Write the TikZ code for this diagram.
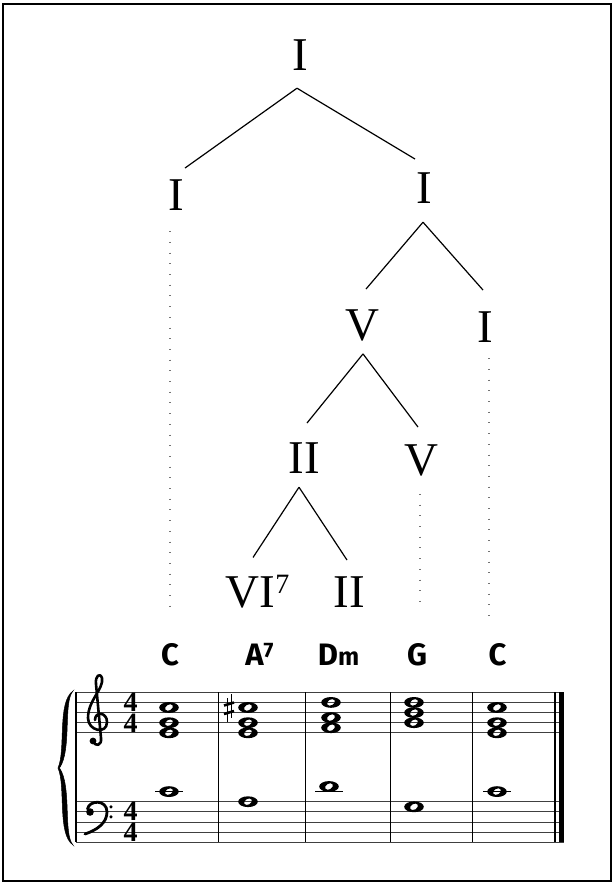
\documentclass[tikz,border=0pt]{standalone}
\usepackage{fontspec}
\setmainfont{Liberation Serif}
\newfontfamily\chordfont{Fira Sans}
\begin{document}
\begin{tikzpicture}[x=1pt,y=-1pt,
  rn/.style={anchor=base, inner sep=0pt, font=\fontsize{47}{47}\selectfont},
  ch/.style={anchor=base, inner sep=0pt, font=\chordfont\bfseries\fontsize{31}{31}\selectfont},
  ts/.style={anchor=center, inner sep=0pt, align=center, font=\bfseries\fontsize{28}{20.6}\selectfont},
  branch/.style={line width=1.2pt},
  dotline/.style={line width=1.2pt, dash pattern=on 1pt off 9.7pt, black!55},
  staffline/.style={line width=0.9pt, black!75},
  barline/.style={line width=1.1pt},
  ledger/.style={line width=1.2pt},
  wnote/.pic={\fill[even odd rule] (0,0) ellipse [x radius=9.8pt, y radius=5.4pt] (0,0) circle [x radius=4.2pt, y radius=2.9pt, rotate=30];}
]
\useasboundingbox (0,0) rectangle (615,886);
\draw[line width=2pt] (3,4) rectangle (611,881);

% tree labels
\node[rn] (r) at (300,70) {I};
\node[rn] (a) at (176,210) {I};
\node[rn] (b) at (424,203) {I};
\node[rn] (c) at (362,340) {V};
\node[rn] (d) at (485,342) {I};
\node[rn] (e) at (304,473) {II};
\node[rn] (f) at (421,475) {V};
\node[rn] (g) at (257.5,607) {VI{\fontsize{28}{28}\selectfont\raisebox{14pt}{7}}};
\node[rn] (h) at (349,607) {II};

% branches
\draw[branch] ([shift={(-3,18)}]r.south) -- ([shift={(9,-11)}]a.north);
\draw[branch] ([shift={(-3,18)}]r.south) -- ([shift={(-9,-13)}]b.north);
\draw[branch] ([shift={(-1,19)}]b.south) -- ([shift={(4,-20)}]c.north);
\draw[branch] ([shift={(-1,19)}]b.south) -- ([shift={(-2,-21)}]d.north);
\draw[branch] ([shift={(1,13)}]c.south) -- ([shift={(3,-19)}]e.north);
\draw[branch] ([shift={(1,13)}]c.south) -- ([shift={(-3,-17)}]f.north);
\draw[branch] ([shift={(-5,14)}]e.south) -- ([shift={(-4.5,-17)}]g.north);
\draw[branch] ([shift={(-5,14)}]e.south) -- ([shift={(-2,-16)}]h.north);

% chord symbols
\node[ch] (k1) at (170,665) {C};
\node[ch] (k2) at (259.5,665) {A\raisebox{7.5pt}{\fontsize{21}{21}\selectfont 7}};
\node[ch] (k3) at (338.5,665) {D{\fontsize{25}{25}\selectfont m}};
\node[ch] (k4) at (417,665) {G};
\node[ch] (k5) at (497.5,665) {C};

% dotted guides
\draw[dotline] ([shift={(-6,21)}]a.south) -- ([shift={(0,-30)}]k1.north);
\draw[dotline] ([shift={(-1,18)}]f.south) -- ([shift={(3,-40)}]k4.north);
\draw[dotline] ([shift={(4,16)}]d.south) -- ([shift={(-8.5,-21)}]k5.north);

% staves
\foreach \k in {0,...,4} {
  \draw[staffline] (76,{732.8-10.12*\k}) -- (564,{732.8-10.12*\k});
  \draw[staffline] (76,{842.2-10.12*\k}) -- (564,{842.2-10.12*\k});
}
\foreach \bx in {76,218.3,305.7,390.7,472.7,555} {
  \draw[barline] (\bx,692.3) -- (\bx,842.2);
}
\draw[line width=4.5pt] (561.5,692.3) -- (561.5,842.2);

% brace
\filldraw[line width=0.5pt] (73,691) .. controls (57,702) and (66,750) .. (58,768)
  .. controls (66,786) and (57,834) .. (73,845)
  .. controls (63,834) and (72,786) .. (59.5,768)
  .. controls (72,750) and (63,702) .. (73,691) -- cycle;

% treble clef
\draw[line width=2.6pt, line cap=round, line join=round]
  (93,741) .. controls (95,747) and (102,746) .. (101,738)
  -- (96,684)
  .. controls (95,676) and (100,672) .. (102,678)
  .. controls (104,689) and (88,700) .. (88,718)
  .. controls (88,731) and (107,735) .. (107,722)
  .. controls (107,712) and (95,711) .. (95,720);
\fill (93,741) circle (3.4pt);

% bass clef
\fill (90,812) circle (3.8pt);
\draw[line width=2.8pt, line cap=round]
  (87.5,809) .. controls (89,800) and (107,799) .. (107,812)
  .. controls (107,823) and (97,830) .. (85,834);
\fill (111,806.9) circle (1.7pt);
\fill (111,816.9) circle (1.7pt);

% time signatures
\node[ts] (t1) at (130.5,712.6) {4\\4};
\node[ts] (t2) at (130.5,822.0) {4\\4};

% sharp
\draw[line width=1pt] (227,698) -- (227,722) (231,694) -- (231,718);
\draw[line width=2.6pt] (224,705.5) -- (234,702.5) (224,714) -- (234,711);

% measure 1: C
\pic at (169,707.5) {wnote};
\pic at (169,722.7) {wnote};
\pic at (169,732.8) {wnote};
\draw[ledger] (155,791.6) -- (183,791.6);
\pic at (169,791.6) {wnote};
% measure 2: A7
\pic at (248,707.5) {wnote};
\pic at (248,722.7) {wnote};
\pic at (248,732.8) {wnote};
\pic at (248,801.7) {wnote};
% measure 3: Dm
\pic at (331,702.4) {wnote};
\pic at (331,717.6) {wnote};
\pic at (331,727.7) {wnote};
\draw[ledger] (315,791.6) -- (343,791.6);
\pic at (329,786.5) {wnote};
% measure 4: G
\pic at (414,702.4) {wnote};
\pic at (414,712.6) {wnote};
\pic at (414,722.7) {wnote};
\pic at (414,806.8) {wnote};
% measure 5: C
\pic at (497,707.5) {wnote};
\pic at (497,722.7) {wnote};
\pic at (497,732.8) {wnote};
\draw[ledger] (483,791.6) -- (511,791.6);
\pic at (497,791.6) {wnote};
\end{tikzpicture}
\end{document}
